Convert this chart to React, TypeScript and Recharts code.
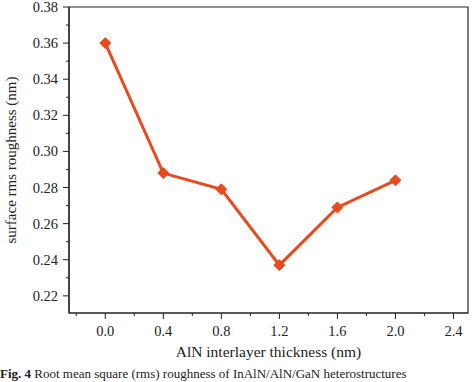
import { LineChart, Line, XAxis, YAxis, ReferenceArea } from "recharts";

const thickness = [0.0, 0.4, 0.8, 1.2, 1.6, 2.0];
const roughness = [0.36, 0.288, 0.279, 0.237, 0.269, 0.284];

const xMajor = [0.0, 0.4, 0.8, 1.2, 1.6, 2.0, 2.4];
const xMinor = [-0.2, 0.2, 0.6, 1.0, 1.4, 1.8, 2.2];
const yMajor = [0.22, 0.24, 0.26, 0.28, 0.3, 0.32, 0.34, 0.36, 0.38];
const yMinor = [0.23, 0.25, 0.27, 0.29, 0.31, 0.33, 0.35, 0.37];

const X_DOMAIN: [number, number] = [-0.25, 2.5];
const Y_DOMAIN: [number, number] = [0.2105, 0.38];

const ORANGE = "#e8491d";
const INK = "#222";
const FONT = "'Liberation Serif', 'DejaVu Serif', serif";

const data = thickness.map((t, i) => ({ t, r: roughness[i] }));

const isMajor = (list: number[], v: number) =>
  list.some((m) => Math.abs(m - v) < 1e-6);

function XTick(props: any) {
  const { x, y, payload } = props;
  const major = isMajor(xMajor, payload.value);
  return (
    <g>
      <line x1={x} x2={x} y1={y} y2={y + (major ? 6 : 3)} stroke={INK} strokeWidth={1} />
      {major && (
        <text x={x} y={y + 23} textAnchor="middle" fontSize={14.5} fill={INK} style={{ fontFamily: FONT }}>
          {payload.value.toFixed(1)}
        </text>
      )}
    </g>
  );
}

function YTick(props: any) {
  const { x, y, payload } = props;
  const major = isMajor(yMajor, payload.value);
  return (
    <g>
      <line x1={x} x2={x - (major ? 6 : 3)} y1={y} y2={y} stroke={INK} strokeWidth={1} />
      {major && (
        <text x={x - 11} y={y + 5} textAnchor="end" fontSize={14.5} fill={INK} style={{ fontFamily: FONT }}>
          {payload.value.toFixed(2)}
        </text>
      )}
    </g>
  );
}

function Diamond(props: any) {
  const { cx, cy } = props;
  if (cx == null || cy == null) return null;
  const s = 5.5;
  return (
    <polygon
      points={`${cx},${cy - s} ${cx + s},${cy} ${cx},${cy + s} ${cx - s},${cy}`}
      fill={ORANGE}
      stroke={ORANGE}
    />
  );
}

export default function App() {
  return (
    <div style={{ position: "absolute", left: 0, top: 0, width: 474, height: 382, overflow: "hidden", background: "#fff" }}>
      <LineChart width={474} height={382} data={data} margin={{ top: 7, right: 6, left: 0, bottom: 0 }}>
        <XAxis
          dataKey="t"
          type="number"
          domain={X_DOMAIN}
          ticks={[...xMinor, ...xMajor].sort((a, b) => a - b)}
          tick={<XTick />}
          tickSize={0}
          tickMargin={0}
          tickLine={false}
          axisLine={{ stroke: INK, strokeWidth: 1.2 }}
          height={69}
          interval={0}
          allowDataOverflow
          label={{ value: "AlN interlayer thickness (nm)", position: "insideTop", offset: 33, fontSize: 15.5, fill: INK, style: { fontFamily: FONT } }}
        />
        <YAxis
          type="number"
          domain={Y_DOMAIN}
          ticks={[...yMinor, ...yMajor].sort((a, b) => a - b)}
          tick={<YTick />}
          tickSize={0}
          tickMargin={0}
          tickLine={false}
          axisLine={{ stroke: INK, strokeWidth: 1.2 }}
          width={69}
          interval={0}
          allowDataOverflow
          label={{ value: "surface rms roughness (nm)", angle: -90, position: "insideLeft", offset: 11, fontSize: 15, fill: INK, style: { textAnchor: "middle", fontFamily: FONT } }}
        />
        <ReferenceArea
          x1={X_DOMAIN[0]}
          x2={X_DOMAIN[1]}
          y1={Y_DOMAIN[0]}
          y2={Y_DOMAIN[1]}
          fill="none"
          stroke={INK}
          strokeWidth={1.2}
          ifOverflow="visible"
        />
        <Line
          dataKey="r"
          type="linear"
          stroke={ORANGE}
          strokeWidth={3}
          dot={<Diamond />}
          activeDot={false}
          isAnimationActive={false}
        />
      </LineChart>
      <div style={{ position: "absolute", left: 0, top: 366, fontFamily: FONT, fontSize: 13, lineHeight: "15px", color: INK, whiteSpace: "nowrap" }}>
        <b>Fig. 4</b> Root mean square (rms) roughness of InAlN/AlN/GaN heterostructures
      </div>
    </div>
  );
}
